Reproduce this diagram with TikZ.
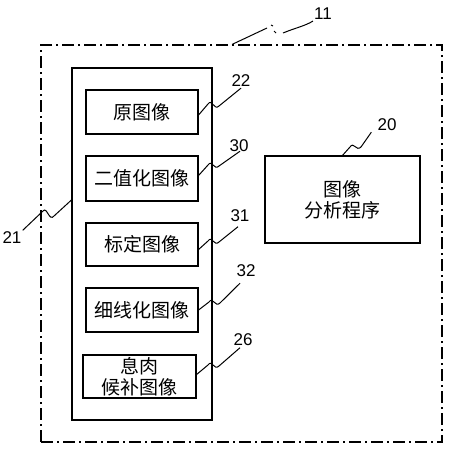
\documentclass[tikz,border=0pt]{standalone}
\usepackage{fontspec}
\newfontfamily\cjk{Noto Sans CJK SC}
\newfontfamily\numfont{Liberation Sans}
\usetikzlibrary{calc}
\begin{document}
\begin{tikzpicture}[x=1pt,y=1pt,
  box/.style={draw, line width=1.1pt, inner sep=0pt, align=center,
    font=\cjk\fontsize{19}{21}\selectfont},
  lbl/.style={font=\numfont\fontsize{17}{17}\selectfont, inner sep=1pt},
  leader/.style={line width=1pt},
  outerline/.style={line width=1.1pt, dash pattern=on 12pt off 4pt on 2pt off 4pt}]
\useasboundingbox (0,0) rectangle (474,-451);
% outer dash-dot frame
\node[outerline, draw, minimum width=401pt, minimum height=397pt, inner sep=0pt] (outer) at (241.5,-243.5) {};
% memory box
\node[draw, line width=1.1pt, minimum width=140pt, minimum height=352pt, inner sep=0pt] (b21) at (142,-244) {};
% image boxes
\node[box, minimum width=112pt, minimum height=44pt] (b22) at (142,-112) {原图像};
\node[box, minimum width=112pt, minimum height=45pt] (b30) at (142,-178.5) {二值化图像};
\node[box, minimum width=112pt, minimum height=43pt] (b31) at (142,-244.5) {标定图像};
\node[box, minimum width=112pt, minimum height=44pt] (b32) at (142,-310) {细线化图像};
\node[box, minimum width=113pt, minimum height=43pt] (b26) at (139.5,-376.5) {息肉\\候补图像};
\node[box, minimum width=155pt, minimum height=87pt] (b20) at (342.5,-199.5) {图像\\分析程序};
% labels
\node[lbl] (l11) at (323,-14) {11};
\node[lbl] (l22) at (241,-81) {22};
\node[lbl] (l30) at (239,-146) {30};
\node[lbl] (l20) at (387,-125) {20};
\node[lbl] (l31) at (240,-215.5) {31};
\node[lbl] (l32) at (246,-271) {32};
\node[lbl] (l26) at (243,-339.5) {26};
\node[lbl] (l21) at (12,-237.5) {21};
% leaders
\draw[leader] ($(outer.north)+(-9.5,0)$) -- (267,-28);
\draw[leader] (271,-25) -- (273,-26);
\draw[leader] (274,-31) -- (276,-33);
\draw[leader] (283,-33) .. controls (295,-28) and (305,-26) .. (l11.south west);
\draw[leader] ($(b22.east)+(0,-3)$) -- (208,-104) .. controls (212,-98) and (214,-111) .. (219,-106) -- (l22.south);
\draw[leader] ($(b30.east)+(0,3)$) -- (208,-165) .. controls (212,-159) and (214,-171) .. (219,-166) -- ($(l30.south)+(1,2)$);
\draw[leader] (b20.north) -- (350,-147) .. controls (354,-141) and (356,-152) .. (361,-147) -- ($(l20.south west)+(-5,0)$);
\draw[leader] ($(b31.east)+(0,-5)$) -- (208,-241) .. controls (212,-235) and (214,-247) .. (219,-242) -- ($(l31.south)+(-2,-4)$);
\draw[leader] (b32.east) -- (209,-302) .. controls (213,-296) and (215,-308) .. (220,-303) -- ($(l32.south)+(-6,-5)$);
\draw[leader] ($(b26.east)+(0,2)$) -- (208,-365) .. controls (212,-359) and (214,-371) .. (219,-366) -- ($(l26.south)+(-3,-1)$);
\draw[leader] ($(b21.west)+(0,44)$) -- (54,-216) .. controls (49,-222) and (47,-206) .. (43,-211) -- (l21.north east);
\end{tikzpicture}
\end{document}
